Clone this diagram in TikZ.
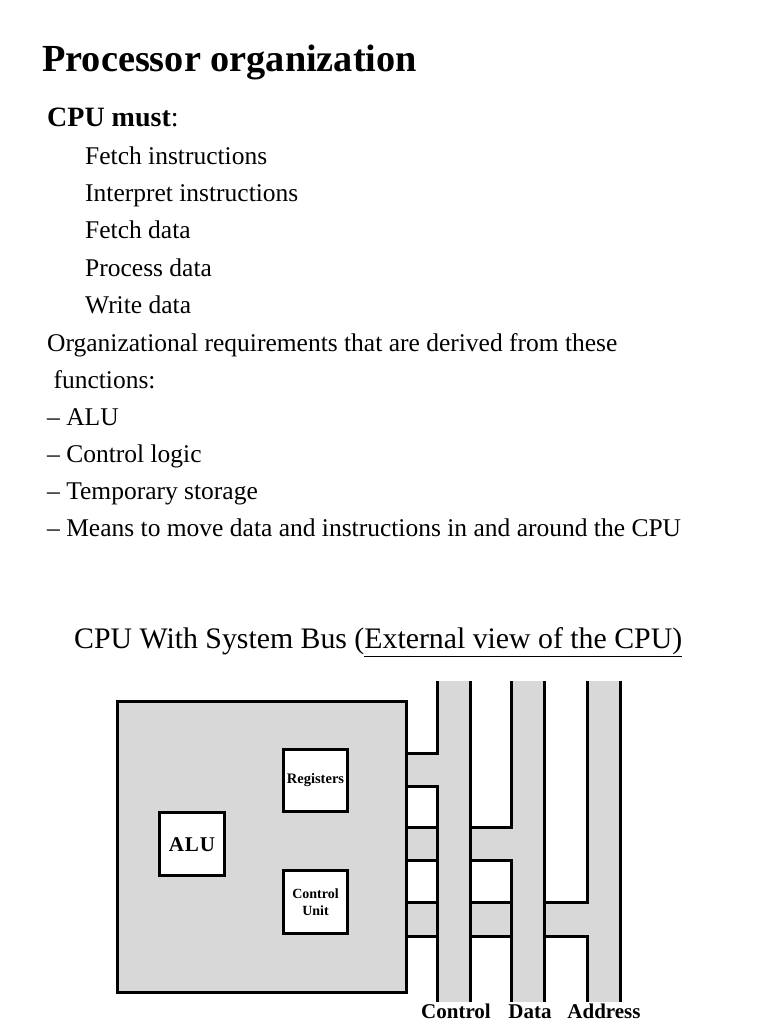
\documentclass[tikz,border=0pt]{standalone}
\usepackage{fontspec}
\setmainfont{Liberation Serif}
\definecolor{busgray}{RGB}{216,216,216}
\tikzset{
  txt/.style={anchor=base west, inner sep=0pt, font=\fontsize{25.5}{30}\selectfont},
  innerbox/.style={draw, line width=3pt, fill=white, inner sep=0pt, align=center,
                   minimum width=64pt, minimum height=62pt},
  busline/.style={line width=3pt, line join=miter},
  buslabel/.style={anchor=base, inner sep=0pt, font=\fontsize{21}{24}\selectfont\bfseries},
}
\begin{document}
\begin{tikzpicture}[x=1pt,y=-1pt]
\useasboundingbox (0,0) rectangle (768,1024);
\fill[white] (0,0) rectangle (768,1024);

% ---- text ----
\node[anchor=base west, inner sep=0pt, font=\fontsize{38.3}{44}\selectfont\bfseries] (title) at (42,72) {Processor organization};
\node[anchor=base west, inner sep=0pt, font=\fontsize{28}{32}\selectfont] (must) at (47,127) {\textbf{CPU must}:};
\node[txt] (l1) at (85,165) {Fetch instructions};
\node[txt] (l2) at (85,202) {Interpret instructions};
\node[txt] (l3) at (85,239) {Fetch data};
\node[txt] (l4) at (85,276) {Process data};
\node[txt] (l5) at (85,313) {Write data};
\node[txt] (o1) at (47,351.5) {Organizational requirements that are derived from these};
\node[txt] (o2) at (47,388.5) {\ functions:};
\node[txt] (r1) at (47,425.5) {– ALU};
\node[txt] (r2) at (47,462.5) {– Control logic};
\node[txt] (r3) at (47,499.5) {– Temporary storage};
\node[txt] (r4) at (47,536.5) {– Means to move data and instructions in and around the CPU};
\node[anchor=base west, inner sep=0pt, font=\fontsize{29.8}{34}\selectfont] (cap) at (74,648)
  {CPU With System Bus (\underline{External view of the CPU)}};

% ---- bus fills ----
\fill[busgray] (437,681) rectangle (470,1002);
\fill[busgray] (511,681) rectangle (544,1002);
\fill[busgray] (587,681) rectangle (620,1002);
\fill[busgray] (404,753) rectangle (437,786);
\fill[busgray] (404,827.5) rectangle (511,860);
\fill[busgray] (404,902) rectangle (587,936);

% ---- CPU ----
\node[draw, line width=3pt, fill=busgray, inner sep=0pt, minimum width=289pt, minimum height=291pt] (cpu) at (261.5,846.5) {};

% ---- bus outlines ----
% control bus
\draw[busline] (cpu.east |- 0,753) -- (437,753) -- (437,681);
\draw[busline] (cpu.east |- 0,786) -- (437,786) -- (437,1002);
\draw[busline] (470,681) -- (470,1002);
% data bus
\draw[busline] (cpu.east |- 0,827.5) -- (437,827.5);
\draw[busline] (cpu.east |- 0,860) -- (437,860);
\draw[busline] (470,827.5) -- (511,827.5) -- (511,681);
\draw[busline] (470,860) -- (511,860) -- (511,1002);
\draw[busline] (544,681) -- (544,1002);
% address bus
\draw[busline] (cpu.east |- 0,902) -- (437,902);
\draw[busline] (cpu.east |- 0,936) -- (437,936);
\draw[busline] (470,902) -- (511,902);
\draw[busline] (470,936) -- (511,936);
\draw[busline] (544,902) -- (587,902) -- (587,681);
\draw[busline] (544,936) -- (587,936) -- (587,1002);
\draw[busline] (620,681) -- (620,1002);

% ---- inner boxes ----
\node[innerbox, font=\fontsize{14.5}{17}\selectfont\bfseries] (reg) at (315.5,780.5) {Registers};
\node[innerbox, minimum width=65pt, minimum height=63pt, font=\fontsize{21}{24}\selectfont\bfseries] (alu) at (192,844.3) {A\kern1ptL\kern1ptU};
\node[innerbox, minimum height=63pt, font=\fontsize{14}{17}\selectfont\bfseries] (cu) at (315.5,901.7) {Control\\Unit};

% ---- bus labels ----
\node[buslabel] (lc) at (456,1018) {Control};
\node[buslabel] (ld) at (530,1018) {Data};
\node[buslabel] (la) at (604,1018) {Address};
\end{tikzpicture}
\end{document}
